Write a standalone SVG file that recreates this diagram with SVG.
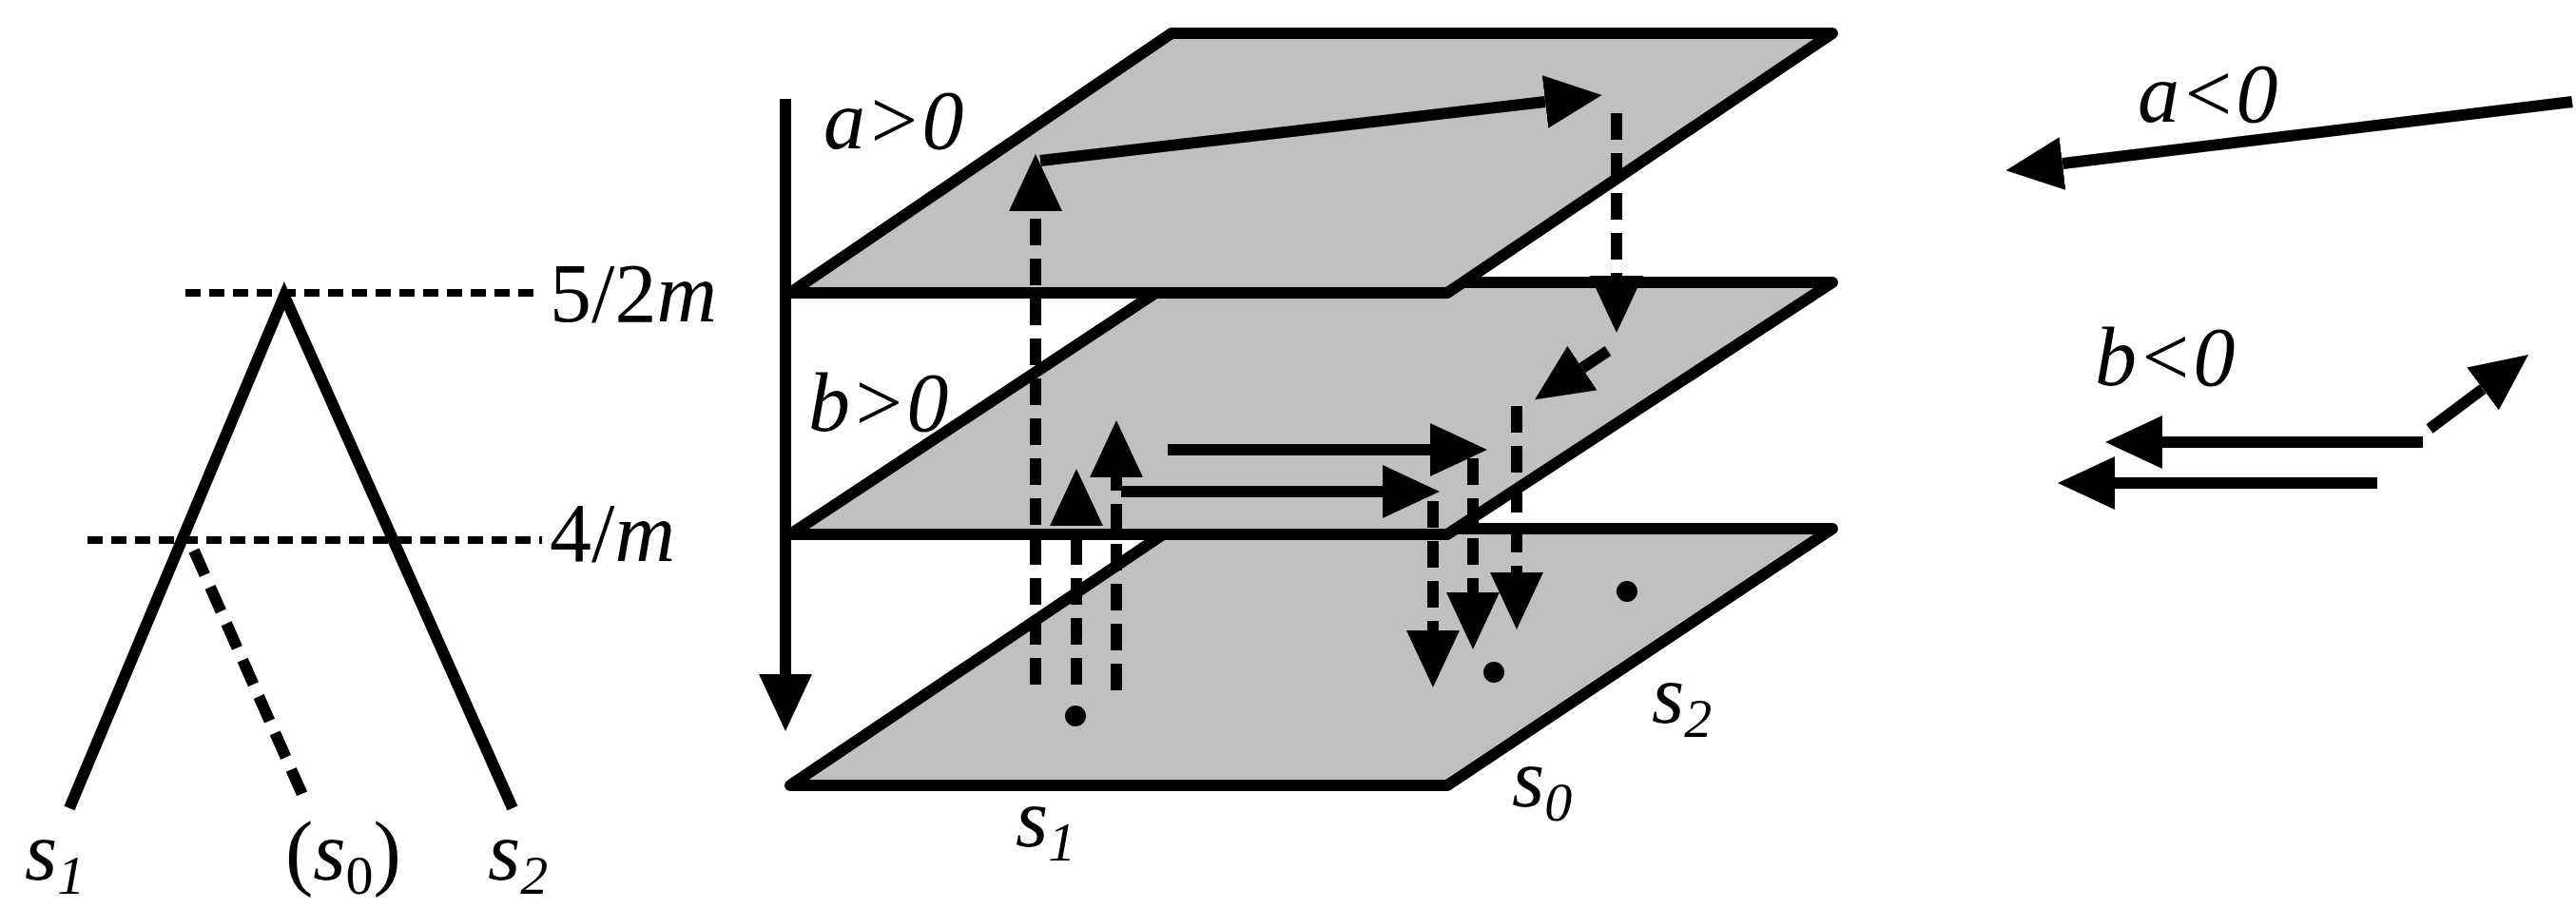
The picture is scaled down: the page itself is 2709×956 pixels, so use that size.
<svg xmlns="http://www.w3.org/2000/svg" width="2709" height="956" viewBox="0 0 2709 956">
<style>
.ln{stroke:#000;stroke-width:12;fill:none}
.ds{stroke:#000;stroke-width:12;fill:none;stroke-dasharray:28 14}
.dt{stroke:#000;stroke-width:8;fill:none;stroke-dasharray:16 9}
.pl{fill:#c0c0c0;stroke:#000;stroke-width:12;stroke-linejoin:round}
.t{font-family:"Liberation Serif",serif;font-size:88px;fill:#000}
.i{font-style:italic}
.sub{font-size:58px}
</style>
<defs>
<marker id="ah" markerUnits="userSpaceOnUse" viewBox="0 0 60 56" markerWidth="60" markerHeight="56" refX="0" refY="28" orient="auto"><path d="M0,0 L60,28 L0,56 z" fill="#000"/></marker>
</defs>
<g id="tree">
<line class="dt" x1="195" y1="308" x2="567" y2="308"/>
<line class="dt" x1="92" y1="568" x2="570" y2="568"/>
<polyline class="ln" points="73,850 299,311 539,850"/>
<line class="ds" x1="204" y1="579" x2="323" y2="847"/>
<text class="t" x="578" y="338">5/2<tspan class="i">m</tspan></text>
<text class="t" x="578" y="590">4/<tspan class="i">m</tspan></text>
<text class="t i" x="26" y="925">s<tspan class="sub" dy="15">1</tspan></text>
<text class="t" x="300" y="925">(<tspan class="i">s</tspan><tspan class="sub" dy="15">0</tspan><tspan dy="-15">)</tspan></text>
<text class="t i" x="513" y="925">s<tspan class="sub" dy="15">2</tspan></text>
</g>
<g id="plane-bottom"><polygon class="pl" points="831,826 1232,556 1927,556 1522,826"/></g>
<g id="plane-middle"><polygon class="pl" points="831,562 1232,297 1927,297 1522,562"/></g>
<g id="plane-top"><polygon class="pl" points="831,308 1232,35 1927,35 1522,308"/></g>
<g id="labels">
<text class="t i" x="866" y="156">a&gt;0</text>
<text class="t i" x="850" y="453">b&gt;0</text>
<text class="t i" x="1068" y="890">s<tspan class="sub" dy="15">1</tspan></text>
<text class="t i" x="1590" y="848">s<tspan class="sub" dy="15">0</tspan></text>
<text class="t i" x="1737" y="760">s<tspan class="sub" dy="15">2</tspan></text>
<text class="t i" x="2248" y="128">a&lt;0</text>
<text class="t i" x="2203" y="405">b&lt;0</text>
</g>
<g id="dots">
<circle cx="1131" cy="753" r="11"/>
<circle cx="1571" cy="707" r="11"/>
<circle cx="1711" cy="622" r="11"/>
</g>
<g id="connectors">
<line class="ln" x1="826" y1="104" x2="826" y2="709" marker-end="url(#ah)"/>
<line class="ln" x1="1094" y1="169" x2="1625" y2="107" marker-end="url(#ah)"/>
<line class="ds" x1="1089" y1="720" x2="1089" y2="222" marker-end="url(#ah)"/>
<line class="ds" x1="1700" y1="119" x2="1700" y2="290" marker-end="url(#ah)"/>
<line class="ln" x1="1691" y1="369" x2="1664" y2="387" marker-end="url(#ah)"/>
<line class="ds" x1="1595" y1="427" x2="1595" y2="602" marker-end="url(#ah)"/>
<line class="ln" x1="1228" y1="473" x2="1504" y2="473" marker-end="url(#ah)"/>
<line class="ds" x1="1549" y1="482" x2="1549" y2="623" marker-end="url(#ah)"/>
<line class="ln" x1="1179" y1="517" x2="1454" y2="517" marker-end="url(#ah)"/>
<line class="ds" x1="1507" y1="527" x2="1507" y2="663" marker-end="url(#ah)"/>
<line class="ds" x1="1174" y1="726" x2="1174" y2="502" marker-end="url(#ah)"/>
<line class="ds" x1="1132" y1="720" x2="1132" y2="553" marker-end="url(#ah)"/>
<line class="ln" x1="2705" y1="107" x2="2169" y2="172" marker-end="url(#ah)"/>
<line class="ln" x1="2548" y1="465" x2="2274" y2="465" marker-end="url(#ah)"/>
<line class="ln" x1="2500" y1="508" x2="2224" y2="508" marker-end="url(#ah)"/>
<line class="ln" x1="2555" y1="451" x2="2611" y2="409" marker-end="url(#ah)"/>
</g>
</svg>
